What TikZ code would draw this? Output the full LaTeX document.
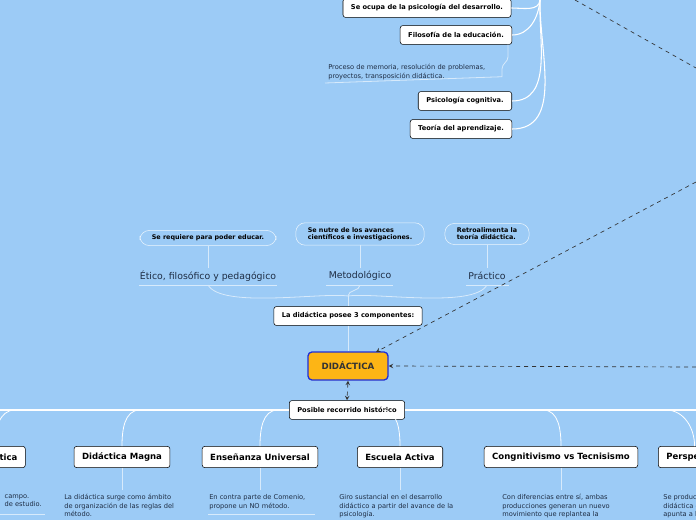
\documentclass[tikz,border=0pt]{standalone}
\usepackage{fontspec}
\setmainfont{DejaVu Sans}
\usetikzlibrary{positioning}
\definecolor{bgblue}{HTML}{9CCBF6}
\definecolor{hub}{HTML}{FDB515}
\definecolor{hubline}{HTML}{1F2FD8}
\definecolor{txt}{HTML}{1E2D44}
\tikzset{
  topic/.style={draw=black, fill=white, rounded corners=2pt, font=\fontsize{5}{6}\selectfont\bfseries, minimum height=14.2pt, inner xsep=6pt},
  era/.style={draw=black, fill=white, rounded corners=2pt, font=\fontsize{6.4}{7}\selectfont\bfseries, minimum height=16pt, inner xsep=6pt},
  bubble/.style={draw=white!80!bgblue, rounded corners=7pt, font=\fontsize{4.8}{5.4}\selectfont\bfseries, minimum height=11pt, align=left, inner xsep=9pt},
  note/.style={font=\fontsize{5}{6.5}\selectfont, text=txt, align=left, anchor=north west, inner sep=0pt},
  comp/.style={font=\fontsize{7}{8}\selectfont, text=txt},
  branch/.style={draw=white, line width=0.8pt},
  thin/.style={draw=white!60!bgblue, line width=0.6pt},
  link/.style={draw=black!80, dashed, line width=0.5pt, >=stealth}
}
\begin{document}
\begin{tikzpicture}[x=0.75pt,y=-0.75pt]
\fill[bgblue] (0,0) rectangle (696,520);
\useasboundingbox (0,0) rectangle (696,520);
\clip (0,0) rectangle (696,520);

% upper branch
\node[topic] (desarrollo) at (427,8) {Se ocupa de la psicología del desarrollo.};
\node[topic] (filosofia) at (456,35) {Filosofía de la educación.};
\node[note, text width=180pt] (memoria) at (328,64) {Proceso de memoria, resolución de problemas,\\proyectos, transposición didáctica.};
\node[topic] (cognitiva) at (465,101) {Psicología cognitiva.};
\node[topic] (teoria) at (461,129) {Teoría del aprendizaje.};
\coordinate (trunk) at (540,0);
\draw[branch] (desarrollo.east) to[out=0,in=-95] (trunk);
\draw[branch] (filosofia.east) to[out=0,in=-95] (trunk);
\draw[branch] (cognitiva.east) to[out=0,in=-92] (trunk);
\draw[branch] (teoria.east) to[out=0,in=-91] (trunk);
\draw[thin] (filosofia.south east) ++(-4,0) -- ++(0,12) to[out=-90,in=90] ++(-6,12) -- ++(0,8) -- (325,83);

% dashed links from the right
\coordinate (farA) at (575,0);
\coordinate (farB) at (696,68);
\coordinate (farC) at (696,182);
\coordinate (farD) at (696,367);
\draw[link] (farA) -- (farB);

% components
\node[bubble] (educar) at (208,238) {Se requiere para poder educar.};
\node[bubble] (nutre) at (360,234) {Se nutre de los avances\\científicos e investigaciones.};
\node[bubble] (retro) at (487,234) {Retroalimenta la\\teoría didáctica.};
\node[comp] (etico) at (208,276) {Ético, filosófico y pedagógico};
\node[comp] (metodo) at (360,276) {Metodológico};
\node[comp] (practico) at (487,276) {Práctico};
\draw[thin] (139,285) -- (277,285);
\draw[thin] (326,285) -- (393,285);
\draw[thin] (466,285) -- (509,285);
\draw[thin] (educar) -- (208,268);
\draw[thin] (nutre) -- (360,268);
\draw[thin] (retro) -- (487,268);

\node[topic] (posee) at (348,316) {La didáctica posee 3 componentes:};
\coordinate (merge) at (348,296);
\draw[thin] (208,285) to[out=-60,in=172,looseness=0.5] (merge);
\draw[thin] (360,285) to[out=-90,in=90] (merge);
\draw[thin] (487,285) to[out=-120,in=8,looseness=0.5] (merge);
\draw[thin] (merge) -- (posee.north);

\node[draw=hubline, fill=hub, line width=1pt, rounded corners=3pt, minimum width=60pt, minimum height=21pt, font=\fontsize{6.5}{7}\selectfont\bfseries, text=black!80] (didactica) at (348,366) {DIDÁCTICA};
\draw[thin] (posee.south) -- (didactica.north);
\coordinate (hubtop) at (376,352);
\draw[link,->] (farC) -- (hubtop);
\draw[link,->] (farD) -- (didactica.east);

% historic branch
\node[topic] (recorrido) at (347,410) {Posible recorrido histórico};
\draw[link,<->] (didactica.south) -- (recorrido.north);
\draw[draw=white, line width=1.5pt] (0,410) -- (recorrido.west);
\draw[draw=white, line width=1.5pt] (recorrido.east) -- (696,410);

\node[era] (otra) at (-5,457) {Didáctica};
\node[era] (magna) at (122,457) {Didáctica Magna};
\node[era] (universal) at (260,457) {Enseñanza Universal};
\node[era] (activa) at (400,457) {Escuela Activa};
\node[era] (cognit) at (561,457) {Congnitivismo vs Tecnisismo};
\node[era, anchor=west] (perspe) at (658,457) {Perspectiva};
\foreach \n/\x/\a in {otra/15/180,magna/140/180,universal/278/180,activa/382/0,cognit/543/0,perspe/666/0}
  \draw[branch, line width=0.6pt] (\n.north) to[out=90,in=\a] (\x,410);

\node[note, anchor=north east] (t0) at (42,494) {campo.\\de estudio.};
\node[note] (t1) at (64,494) {La didáctica surge como ámbito\\de organización de las reglas del\\método.};
\node[note] (t2) at (209,494) {En contra parte de Comenio,\\propone un NO método.};
\node[note] (t3) at (339,494) {Giro sustancial en el desarrollo\\didáctico a partir del avance de la\\psicología.};
\node[note] (t4) at (502,494) {Con diferencias entre sí, ambas\\producciones generan un nuevo\\movimiento que replantea la};
\node[note] (t5) at (663,494) {Se producen\\didáctica es\\apunta a la};
\draw[thin] (magna.south) -- (122,490);
\draw[thin] (universal.south) -- (260,490);
\draw[thin] (activa.south) -- (400,490);
\draw[thin] (cognit.south) -- (561,490);
\draw[thin] (0,514) -- (45,514);
\draw[thin] (208,514) -- (315,514);
\end{tikzpicture}
\end{document}
